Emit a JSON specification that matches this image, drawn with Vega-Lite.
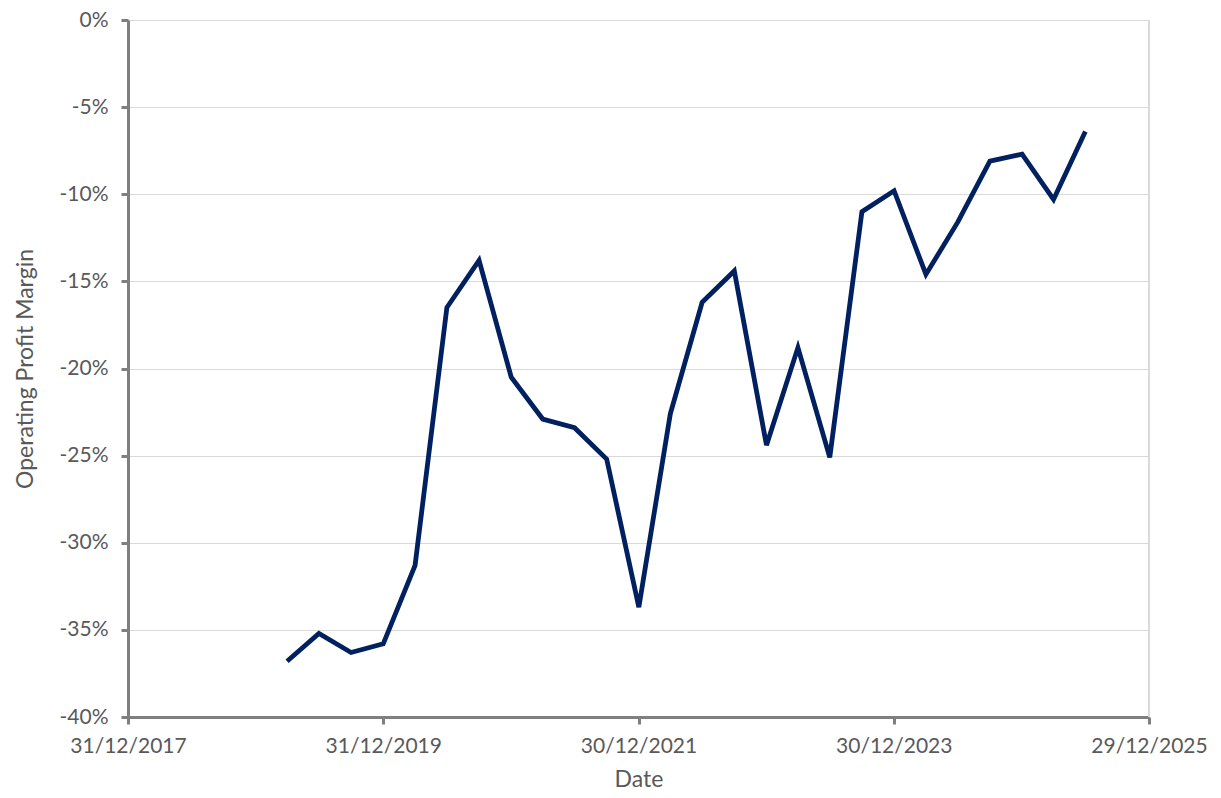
{
  "$schema": "https://vega.github.io/schema/vega-lite/v6.json",
  "autosize": "none",
  "width": 1021,
  "height": 697,
  "padding": {"left": 128, "top": 20, "right": 72, "bottom": 81},
  "background": "white",
  "config": {
    "view": {"stroke": null},
    "font": "Lato",
    "axis": {
      "labelFont": "Lato",
      "titleFont": "Lato",
      "labelColor": "#595959",
      "titleColor": "#595959",
      "labelFontSize": 21,
      "titleFontSize": 23,
      "titleFontWeight": "normal",
      "gridColor": "#d9d9d9",
      "gridWidth": 1,
      "domainColor": "#7f7f7f",
      "domainWidth": 3,
      "tickColor": "#7f7f7f",
      "tickWidth": 3,
      "tickSize": 7
    }
  },
  "data": {
    "values": [
      {"Date": "2019-03-31", "Margin": -0.368},
      {"Date": "2019-06-30", "Margin": -0.352},
      {"Date": "2019-09-30", "Margin": -0.363},
      {"Date": "2019-12-31", "Margin": -0.358},
      {"Date": "2020-03-31", "Margin": -0.313},
      {"Date": "2020-06-30", "Margin": -0.165},
      {"Date": "2020-09-30", "Margin": -0.138},
      {"Date": "2020-12-31", "Margin": -0.205},
      {"Date": "2021-03-31", "Margin": -0.229},
      {"Date": "2021-06-30", "Margin": -0.234},
      {"Date": "2021-09-30", "Margin": -0.252},
      {"Date": "2021-12-31", "Margin": -0.337},
      {"Date": "2022-03-31", "Margin": -0.226},
      {"Date": "2022-06-30", "Margin": -0.162},
      {"Date": "2022-09-30", "Margin": -0.144},
      {"Date": "2022-12-31", "Margin": -0.244},
      {"Date": "2023-03-31", "Margin": -0.188},
      {"Date": "2023-06-30", "Margin": -0.251},
      {"Date": "2023-09-30", "Margin": -0.110},
      {"Date": "2023-12-31", "Margin": -0.098},
      {"Date": "2024-03-31", "Margin": -0.146},
      {"Date": "2024-06-30", "Margin": -0.116},
      {"Date": "2024-09-30", "Margin": -0.081},
      {"Date": "2024-12-31", "Margin": -0.077},
      {"Date": "2025-03-31", "Margin": -0.103},
      {"Date": "2025-06-30", "Margin": -0.064}
    ]
  },
  "layer": [
    {
      "mark": {"type": "rule", "color": "#d9d9d9", "strokeWidth": 1},
      "encoding": {
        "x": {"datum": {"year": 2025, "month": 12, "date": 29, "utc": true}, "type": "temporal"}
      }
    },
    {
      "mark": {"type": "line", "color": "#002060", "strokeWidth": 4.8, "strokeJoin": "miter"},
      "encoding": {
        "x": {
          "field": "Date",
          "type": "temporal",
          "title": "Date",
          "scale": {
            "type": "utc",
            "domain": [
              {"year": 2017, "month": 12, "date": 31, "utc": true},
              {"year": 2025, "month": 12, "date": 29, "utc": true}
            ],
            "nice": false
          },
          "axis": {
            "values": [
              {"year": 2017, "month": 12, "date": 31, "utc": true},
              {"year": 2019, "month": 12, "date": 31, "utc": true},
              {"year": 2021, "month": 12, "date": 30, "utc": true},
              {"year": 2023, "month": 12, "date": 30, "utc": true},
              {"year": 2025, "month": 12, "date": 29, "utc": true}
            ],
            "labelExpr": "utcFormat(datum.value, '%d/%m/%Y')",
            "labelPadding": 11,
            "titlePadding": 12,
            "labelFlush": false
          }
        },
        "y": {
          "field": "Margin",
          "type": "quantitative",
          "title": "Operating Profit Margin",
          "scale": {"domain": [-0.4, 0], "nice": false, "zero": false},
          "axis": {
            "values": [-0.4, -0.35, -0.3, -0.25, -0.2, -0.15, -0.1, -0.05, 0],
            "labelExpr": "round(datum.value * 100) + '%'",
            "labelPadding": 13,
            "titlePadding": 22,
            "labelFlush": false
          }
        }
      }
    }
  ]
}
